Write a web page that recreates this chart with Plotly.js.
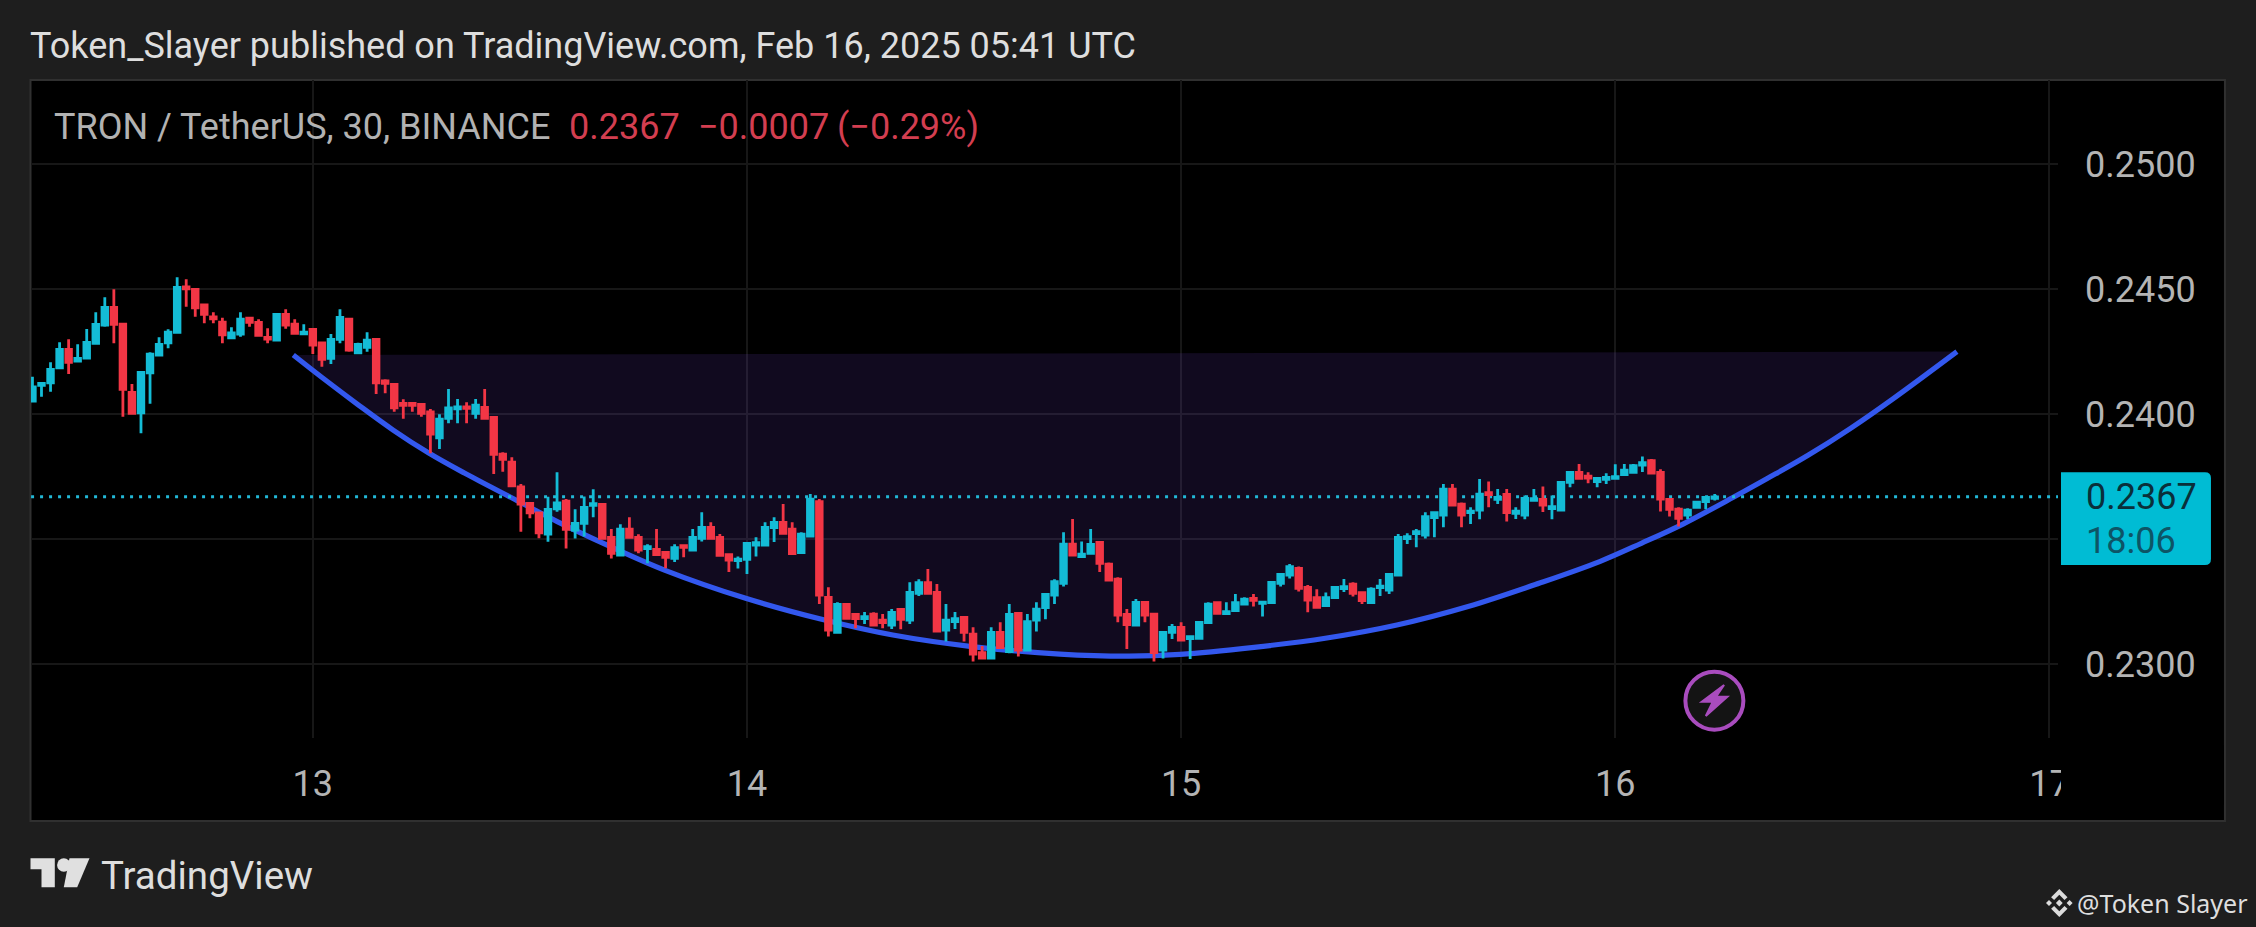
<!DOCTYPE html>
<html><head><meta charset="utf-8">
<script src="https://cdn.plot.ly/plotly-3.0.1.min.js"></script>
<style>html,body{margin:0;padding:0;background:#1e1e1e;overflow:hidden}</style>
</head><body><div id="chart" style="width:2256px;height:927px"></div>
<script>
// 30-minute bars; the 32nd bar opens day 13. Prices in USDT.
const open = [
.24053,.24116,.24126,.24186,.24260,.24213,.24225,.24284,.24357,.24428,
.24361,.24088,.24006,.24166,.24237,.24286,.24328,.24510,.24500,.24438,
.24390,.24369,.24306,.24321,.24385,.24368,.24308,.24297,.24400,.24361,
.24322,
.24340,.24286,.24224,.24300,.24381,.24246,.24268,.24300,.24134,.24120,
.24044,.24044,.24040,.24010,.23906,.23984,.24022,.24030,.24004,.24028,
.23988,.23841,.23809,.23710,.23644,.23606,.23521,.23622,.23653,.23537,
.23564,.23636,.23640,.23508,.23437,.23541,.23508,.23463,.23460,.23448,
.23424,.23475,.23457,.23504,.23548,.23508,.23439,.23415,.23420,.23477,
.23477,.23547,.23568,.23541,.23447,.23513,.23651,.23268,.23128,.23240,
.23200,.23183,.23201,.23177,.23157,.23220,.23177,.23284,.23327,.23288,
.23137,.23171,.23188,.23121,.23047,.23025,.23128,.23051,.23204,.23057,
.23177,.23227,.23277,.23324,.23481,.23431,.23444,.23488,.23401,.23341,
.23200,.23157,.23248,.23201,.23057,.23128,.23148,.23103,.23104,.23167,
.23247,.23203,.23215,.23241,.23264,.23244,.23247,.23324,.23357,.23384,
.23308,.23267,.23235,.23267,.23303,.23321,.23287,.23247,.23307,.23297,
.23357,.23503,.23523,.23517,.23587,.23597,.23701,.23641,.23607,.23617,
.23687,.23660,.23680,.23604,.23597,.23656,.23660,.23623,.23617,.23728,
.23768,.23753,.23731,.23740,.23744,.23759,.23768,.23797,.23815,.23768,
.23660,.23621,.23597,.23628,.23651,.23664];
const high = [
.24150,.24128,.24208,.24288,.24300,.24280,.24341,.24408,.24468,.24500,
.24366,.24121,.24168,.24248,.24308,.24340,.24548,.24540,.24500,.24438,
.24408,.24386,.24348,.24408,.24388,.24380,.24344,.24400,.24420,.24380,
.24360,
.24340,.24286,.24321,.24420,.24381,.24286,.24328,.24300,.24140,.24120,
.24060,.24048,.24040,.24021,.24000,.24101,.24061,.24048,.24061,.24101,
.23988,.23848,.23828,.23721,.23648,.23610,.23670,.23768,.23661,.23620,
.23671,.23700,.23640,.23541,.23560,.23588,.23520,.23480,.23541,.23448,
.23480,.23480,.23541,.23608,.23568,.23521,.23441,.23431,.23488,.23508,
.23568,.23588,.23641,.23568,.23528,.23681,.23661,.23308,.23248,.23240,
.23200,.23209,.23208,.23201,.23221,.23220,.23328,.23340,.23381,.23321,
.23241,.23209,.23188,.23148,.23073,.23148,.23168,.23241,.23208,.23201,
.23248,.23281,.23340,.23528,.23581,.23491,.23541,.23488,.23407,.23348,
.23221,.23261,.23249,.23201,.23131,.23161,.23168,.23113,.23168,.23248,
.23248,.23248,.23281,.23268,.23281,.23250,.23328,.23361,.23401,.23391,
.23317,.23300,.23287,.23311,.23341,.23328,.23289,.23308,.23341,.23361,
.23521,.23524,.23541,.23608,.23608,.23721,.23721,.23647,.23628,.23741,
.23731,.23701,.23701,.23628,.23675,.23701,.23711,.23675,.23729,.23769,
.23801,.23768,.23747,.23764,.23800,.23801,.23801,.23831,.23821,.23780,
.23661,.23628,.23624,.23651,.23671,.23681];
const low = [
.24050,.24070,.24090,.24184,.24161,.24210,.24222,.24282,.24350,.24284,
.23990,.24001,.23924,.24042,.24233,.24264,.24328,.24430,.24390,.24364,
.24364,.24284,.24304,.24310,.24350,.24310,.24284,.24292,.24342,.24321,
.24321,
.24241,.24190,.24201,.24284,.24250,.24241,.24250,.24081,.24084,.24010,
.23982,.24010,.23990,.23844,.23861,.23964,.23964,.23964,.23982,.23982,
.23761,.23770,.23710,.23530,.23584,.23504,.23490,.23610,.23463,.23503,
.23511,.23588,.23500,.23423,.23431,.23504,.23444,.23404,.23436,.23384,
.23409,.23428,.23451,.23491,.23501,.23431,.23369,.23383,.23361,.23431,
.23476,.23489,.23521,.23441,.23445,.23511,.23241,.23111,.23127,.23181,
.23144,.23161,.23151,.23144,.23141,.23140,.23161,.23273,.23283,.23131,
.23091,.23141,.23091,.23011,.23023,.23024,.23064,.23044,.23031,.23055,
.23131,.23180,.23241,.23311,.23435,.23429,.23441,.23369,.23336,.23168,
.23061,.23156,.23168,.23011,.23023,.23101,.23096,.23021,.23101,.23164,
.23200,.23201,.23211,.23239,.23231,.23191,.23244,.23311,.23343,.23291,
.23208,.23225,.23231,.23263,.23289,.23271,.23241,.23244,.23273,.23281,
.23351,.23481,.23468,.23503,.23508,.23548,.23636,.23548,.23561,.23580,
.23628,.23641,.23571,.23581,.23580,.23651,.23609,.23580,.23616,.23708,
.23741,.23724,.23708,.23721,.23741,.23753,.23764,.23769,.23764,.23611,
.23591,.23551,.23581,.23623,.23620,.23655];
const close = [
.24110,.24124,.24180,.24260,.24208,.24224,.24288,.24360,.24428,.24360,
.24100,.24004,.24168,.24241,.24280,.24329,.24508,.24502,.24426,.24400,
.24382,.24318,.24326,.24381,.24368,.24316,.24301,.24400,.24357,.24324,
.24329,
.24277,.24220,.24300,.24388,.24257,.24280,.24297,.24126,.24124,.24026,
.24036,.24036,.24004,.23921,.23981,.24026,.24030,.24024,.24037,.23984,
.23840,.23820,.23714,.23641,.23606,.23526,.23620,.23646,.23540,.23564,
.23628,.23643,.23504,.23444,.23541,.23508,.23457,.23471,.23439,.23428,
.23467,.23468,.23508,.23548,.23504,.23436,.23417,.23421,.23484,.23487,
.23548,.23568,.23524,.23443,.23521,.23661,.23277,.23137,.23240,.23184,
.23183,.23191,.23157,.23167,.23208,.23180,.23288,.23327,.23284,.23133,
.23177,.23183,.23128,.23041,.23025,.23128,.23067,.23200,.23057,.23171,
.23221,.23280,.23331,.23481,.23437,.23441,.23480,.23404,.23337,.23197,
.23159,.23248,.23197,.23047,.23128,.23148,.23097,.23111,.23168,.23241,
.23204,.23211,.23247,.23261,.23256,.23249,.23328,.23360,.23391,.23304,
.23257,.23228,.23267,.23308,.23311,.23284,.23255,.23301,.23313,.23360,
.23508,.23511,.23531,.23591,.23607,.23701,.23637,.23597,.23613,.23681,
.23679,.23668,.23607,.23613,.23664,.23663,.23637,.23631,.23728,.23768,
.23744,.23745,.23744,.23748,.23751,.23777,.23795,.23807,.23765,.23661,
.23620,.23584,.23617,.23649,.23668,.23670];
const price_line = [0.2367, 0.2367];
const price_line_days = [12.351, 17.02];
const arc_days = [12.955,13.0205,13.103,13.185,13.267,13.349,13.4645,13.563,13.678,13.810,13.997,14.172,14.336,14.518,14.721,14.880,14.998,15.168,15.332,15.497,15.661,15.826,15.964,16.060,16.156,16.272,16.349,16.445,16.542,16.638,16.787];
const arc_price = [.24237,.24148,.24040,.23937,.23845,.23765,.23660,.23571,.23477,.23377,.23264,.23180,.23117,.23071,.23041,.23033,.23040,.23068,.23104,.23157,.23231,.23325,.23411,.23484,.23561,.23668,.23742,.23837,.23944,.24060,.24251];
const tick_days = [13,14,15,16,17];
const tick_prices = [0.2300,0.2350,0.2400,0.2450,0.2500];
const tick_price_labels = ['0.2300','','0.2400','0.2450','0.2500'];

const n = close.length;
const bar_days = Array.from({length:n},(_,i)=>13 + (i-31)/48);

const W=2256,H=927,L=30.5,R=2058,T=80,B=738;
const px=x=>(x-L)/(R-L), py=y=>1-(y-T)/(B-T);
const yRange=[0.2300-(B-664.3)/25000, 0.2500+(164.3-T)/25000];
const xRange=[13-(312.5-L)/434.4, 17+(R-2049.4)/434.4];
const FONT='Roboto, sans-serif';
const rect=(x0,y0,x1,y1,fill,layer,line)=>({type:'rect',xref:'paper',yref:'paper',x0:px(x0),x1:px(x1),y0:py(y0),y1:py(y1),fillcolor:fill,layer:layer||'below',line:line||{width:0}});
const pathOf=(pts)=>'M'+pts.map(p=>px(p[0])+','+py(p[1])).join('L')+'Z';
const poly=(pts,fill,lw)=>({type:'path',xref:'paper',yref:'paper',path:pathOf(pts),fillcolor:fill,line:lw?{width:lw,color:fill}:{width:0},layer:'above'});
const circ=(cx,cy,r,fill,line)=>({type:'circle',xref:'paper',yref:'paper',layer:'above',x0:px(cx-r),x1:px(cx+r),y0:py(cy-r),y1:py(cy+r),fillcolor:fill,line:line||{width:0}});
const txt=(x,y,text,size,color,anchor,fam)=>({xref:'paper',yref:'paper',x:px(x),y:py(y),text,showarrow:false,xanchor:anchor||'left',yanchor:'middle',font:{family:fam||FONT,size,color}});

const traces=[
 {type:'scatter',mode:'lines',x:arc_days,y:arc_price,fill:'toself',fillcolor:'rgba(103,58,183,0.17)',line:{color:'#3358EE',width:5.2,shape:'spline'},hoverinfo:'skip',xaxis:'x',yaxis:'y'},
 {type:'scatter',mode:'lines',x:price_line_days,y:price_line,line:{color:'#22B8D6',width:3,dash:'3px,6px'},hoverinfo:'skip',xaxis:'x',yaxis:'y'},
 {type:'candlestick',x:bar_days,open,high,low,close,xaxis:'x',yaxis:'y2',
  increasing:{line:{color:'#14BCD6',width:2.8},fillcolor:'#14BCD6'},decreasing:{line:{color:'#F23645',width:2.8},fillcolor:'#F23645'},whiskerwidth:0}
];
const layout={width:W,height:H,paper_bgcolor:'#1e1e1e',plot_bgcolor:'#000',showlegend:false,boxgap:0.38,boxgroupgap:0,
 margin:{l:L,r:W-R,t:T,b:H-B,pad:0},font:{family:FONT},
 xaxis:{range:xRange,tickmode:'array',tickvals:tick_days,ticktext:tick_days.map(String),gridcolor:'#171717',gridwidth:2,zeroline:false,showline:false,ticks:'',tickfont:{family:FONT,size:36,color:'#b4b4b4'},ticklabelstandoff:21,rangeslider:{visible:false},fixedrange:true},
 yaxis:{range:yRange,side:'right',tickmode:'array',tickvals:tick_prices,ticktext:tick_price_labels,gridcolor:'#171717',gridwidth:2,zeroline:false,showline:false,ticks:'',tickfont:{family:FONT,size:36,color:'#b4b4b4'},ticklabelstandoff:26,fixedrange:true},
 yaxis2:{range:yRange,overlaying:'y',side:'right',showgrid:false,showticklabels:false,zeroline:false,fixedrange:true},
 shapes:[
  rect(30,80,2225,821,'#000','below',{color:'#303030',width:2}),
  rect(2061,745,2224,805,'#000','above'),
  {type:'path',xref:'paper',yref:'paper',layer:'above',fillcolor:'#00BCD4',line:{width:0},
   path:`M${px(2061)},${py(472.3)}L${px(2205)},${py(472.3)}Q${px(2211)},${py(472.3)} ${px(2211)},${py(478)}L${px(2211)},${py(559)}Q${px(2211)},${py(565)} ${px(2205)},${py(565)}L${px(2061)},${py(565)}Z`},
  circ(1714.3,700.7,29,'#141414',{color:'#A94CBE',width:4}),
  poly([[1724,685],[1701.7,701.7],[1712.7,701.7],[1705.7,716],[1727.3,696.7],[1716,696.7]],'#A94CBE',2),
  poly([[30,858.3],[54.3,858.3],[54.3,887.3],[41,887.3],[41,869.3],[30,869.3]],'#e0e0e0'),
  circ(63.3,865,6.7,'#e0e0e0'),
  poly([[69,858.3],[89,858.3],[76.7,887.3],[63.3,887.3]],'#e0e0e0'),
  poly([[2059.3,889],[2067.5,897.2],[2064.5,900],[2059.3,894.8],[2054.1,900],[2051.1,897.2]],'#dcdcdc'),
  poly([[2059.3,917],[2067.5,908.8],[2064.5,906],[2059.3,911.2],[2054.1,906],[2051.1,908.8]],'#dcdcdc'),
  poly([[2059.3,899.6],[2062.7,903],[2059.3,906.4],[2055.9,903]],'#dcdcdc'),
  poly([[2049,900],[2052,903],[2049,906],[2046,903]],'#dcdcdc'),
  poly([[2069.6,900],[2072.6,903],[2069.6,906],[2066.6,903]],'#dcdcdc'),
 ],
 annotations:[
  txt(27.5,46,'Token_Slayer published on TradingView.com, Feb 16, 2025 05:41 UTC',36,'#dedede'),
  txt(52,127,'TRON / TetherUS, 30, BINANCE',36,'#b2b2b2'),
  txt(567,127,'0.2367',36,'#D33E50'),
  txt(696,127,'−0.0007',36,'#D33E50'),
  txt(835,127,'(−0.29%)',36,'#D33E50'),
  txt(2084,497,'0.2367',36,'#0a2f3a'),
  txt(2084,541,'18:06',36,'#0d5566'),
  txt(99,875,'TradingView',38.5,'#dedede'),
  txt(2075,903,'@Token Slayer',25,'#dedede','left','"Noto Sans", sans-serif'),
 ]
};
Plotly.newPlot('chart',traces,layout,{staticPlot:true,displayModeBar:false});
</script></body></html>
